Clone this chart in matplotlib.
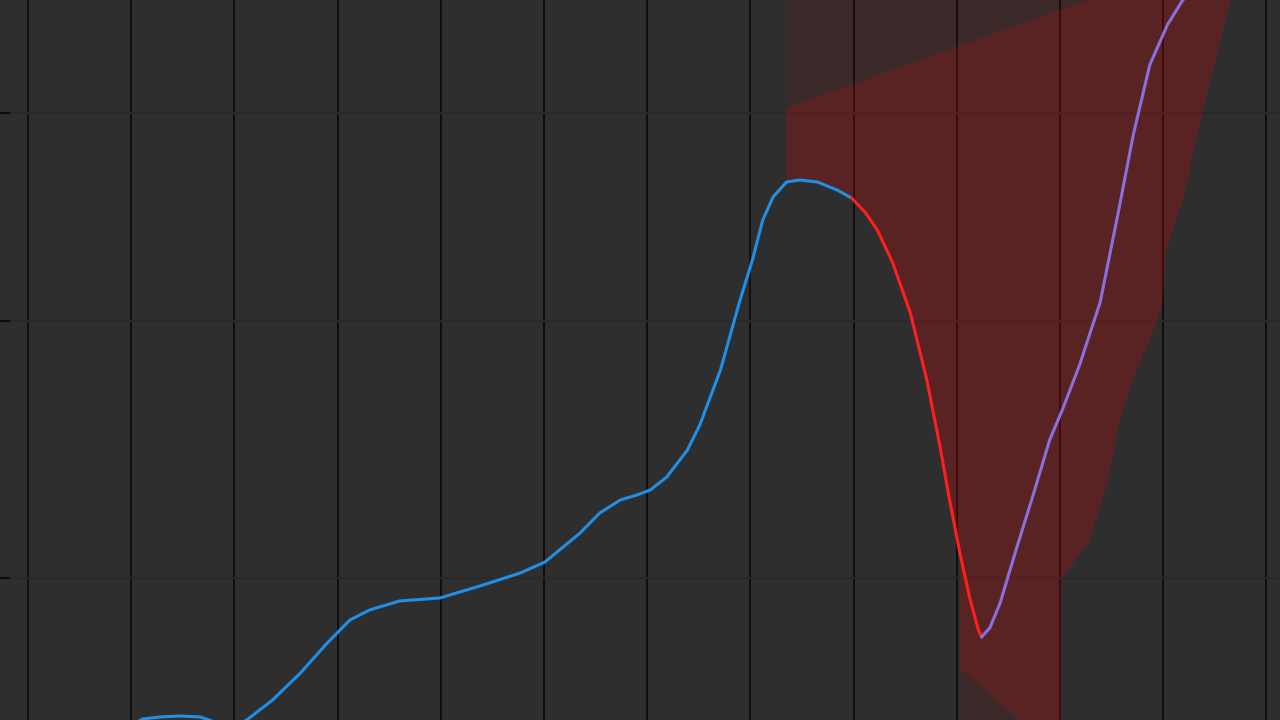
import matplotlib
matplotlib.use("Agg")
import matplotlib.pyplot as plt

# Series values (year, value)
years = [2010.94, 2011.11, 2011.28, 2011.47, 2011.67, 2011.81, 2011.96, 2012.12,
         2012.37, 2012.64, 2012.90, 2013.12, 2013.31, 2013.60, 2013.99, 2014.38,
         2014.77, 2015.01, 2015.35, 2015.54, 2015.74, 2015.90, 2016.03, 2016.19,
         2016.39, 2016.51, 2016.71, 2016.90, 2017.02, 2017.12, 2017.22, 2017.35,
         2017.48, 2017.65, 2017.84, 2017.98, 2018.11, 2018.23, 2018.38, 2018.55,
         2018.71, 2018.84, 2018.93, 2019.03, 2019.13, 2019.21, 2019.24, 2019.32,
         2019.42, 2019.58, 2019.74, 2019.90, 2020.03, 2020.19, 2020.39, 2020.56,
         2020.71, 2020.87, 2021.04, 2021.19, 2021.36]
values = [-1.0, 0.1, 0.3, 0.4, 0.3, -0.2, -0.8, 0.0,
          2.0, 4.7, 7.7, 10.0, 11.0, 11.9, 12.2, 13.4,
          14.7, 15.8, 18.7, 20.7, 22.0, 22.5, 23.0, 24.3,
          27.0, 29.5, 35.0, 42.0, 46.0, 50.0, 52.3, 53.8,
          54.0, 53.8, 53.0, 52.2, 50.8, 49.0, 45.7, 40.7,
          34.0, 27.2, 22.0, 16.7, 12.0, 9.0, 8.3, 9.2,
          11.7, 17.2, 22.5, 28.0, 31.2, 35.5, 41.8, 50.5,
          58.5, 65.5, 69.5, 72.0, 73.5]

hist_end = years.index(2017.98)   # last point of the history (blue)
drop_end = years.index(2019.24)   # bottom of the drop (red)

# forecast band edges
band_start = years.index(2017.35)
band_curve_end = years.index(2019.03)
band_right_x = [2021.79, 2021.65, 2021.41, 2021.19, 2021.03, 2020.99, 2020.85,
                2020.72, 2020.58, 2020.46, 2020.29, 2020.01, 2020.01]
band_right_y = [77.0, 72.0, 62.0, 52.0, 47.0, 41.3, 37.5,
                34.5, 30.0, 23.7, 18.0, 14.0, -3.0]
inner_top_x = [2017.35, 2021.35]
inner_top_y = [61.2, 76.0]
inner_bottom_x = [2019.90, 2019.61, 2019.03]
inner_bottom_y = [-2.5, 0.0, 5.2]

y_ticks = [14.2, 39.9, 60.7]

bg = "#2e2e2e"
fig = plt.figure(figsize=(12.8, 7.2), dpi=100, facecolor=bg)
ax = fig.add_axes([0, 0, 1, 1], facecolor=bg)

curve_x = years[band_start:band_curve_end + 1][::-1]
curve_y = values[band_start:band_curve_end + 1][::-1]

# outer (faint) band
outer_x = [years[band_start]] + band_right_x + [years[band_curve_end]] + curve_x
outer_y = [77.0] + band_right_y + [-3.0] + curve_y
ax.fill(outer_x, outer_y, color="red", alpha=0.07, lw=0, zorder=1)

# inner (stronger) band
inner_x = inner_top_x + band_right_x + inner_bottom_x + curve_x
inner_y = inner_top_y + band_right_y + inner_bottom_y + curve_y
ax.fill(inner_x, inner_y, color="red", alpha=0.15, lw=0, zorder=1)

style = dict(lw=2.2, solid_capstyle="round", solid_joinstyle="round", zorder=3)
ax.plot(years[:hist_end + 1], values[:hist_end + 1], color="#1f8fe8", **style)
ax.plot(years[hist_end:drop_end + 1], values[hist_end:drop_end + 1],
        color="#ff1f1f", **style)
ax.plot(years[drop_end:], values[drop_end:], color="#8a6fe0", **style)

ax.set_xlim(2009.729, 2022.132)
ax.set_ylim(0, 72)
ax.set_xticks(range(2010, 2023))
ax.set_yticks(y_ticks)
ax.set_axisbelow(True)
ax.grid(axis="x", color="#0c0c0c", lw=1.3)
ax.grid(axis="y", color="#292929", lw=1.5)
ax.tick_params(axis="y", direction="in", length=7, width=1.5, color="#0c0c0c",
               labelleft=False)
ax.tick_params(axis="x", length=0, labelbottom=False)
for s in ax.spines.values():
    s.set_visible(False)

fig.savefig("out.png", dpi=100, facecolor=bg)
